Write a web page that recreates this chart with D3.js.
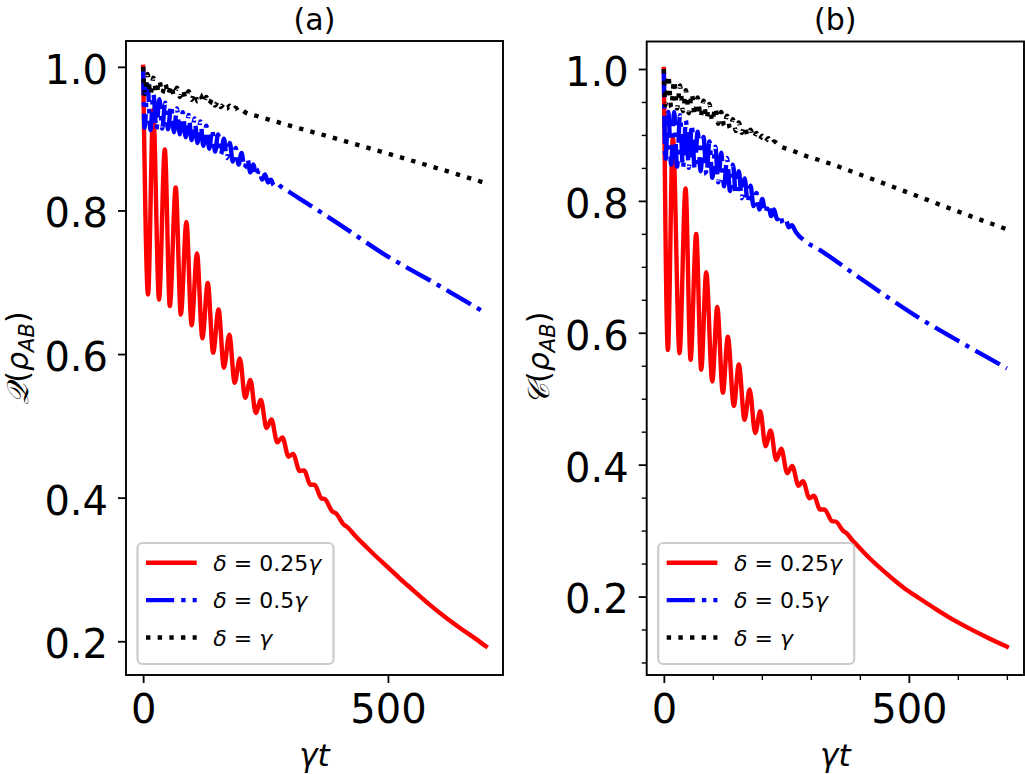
<!DOCTYPE html>
<html><head><meta charset="utf-8">
<script src="https://cdn.jsdelivr.net/npm/d3@7/dist/d3.min.js"></script>
<style>
body{margin:0;background:#fff;}
text{font-family:"DejaVu Sans",sans-serif;fill:#000;}
</style>
</head><body>
<svg id="chart" width="1025" height="774"></svg>
<script>
// ---------------- data ----------------
const legendLabels = [["δ"," = 0.25","γ"],["δ"," = 0.5","γ"],["δ"," = ","γ"]];
const panelTitles = ["(a)","(b)"];
const xMajorTicks = [0, 500];
const xMinorTicksB = [100, 200, 300, 400, 600, 700];
const yMajorTicks = [0.2, 0.4, 0.6, 0.8, 1.0];
const yMinorTicksB = [0.1,0.15,0.25,0.3,0.35,0.45,0.5,0.55,0.65,0.7,0.75,0.85,0.9,0.95];
const xDomain = [-35, 735];
const yDomainA = [0.153, 1.036];
const yDomainB = [0.081, 1.0417];

// panel (a): Q(rho_AB)
const redA = [[0,1.0],[10,0.683],[20.5,0.940],[32.5,0.676],[44.3,0.885],[54.5,0.667],[66.5,0.832],[77,0.655],[88.4,0.784],[99,0.640],[110,0.740],[121,0.622],[132,0.699],[143,0.602],[154,0.662],[165,0.581],[176,0.627],[187,0.560],[197.5,0.594],[208.5,0.539],[219,0.564],[230,0.518],[240.5,0.536],[252,0.497],[262,0.509],[274,0.477],[284.5,0.484],[297,0.457],[306,0.461],[320,0.437],[328.6,0.438],[342,0.418],[350,0.418],[364,0.399],[371,0.398],[386,0.381],[394,0.378],[409,0.363],[417,0.359],[433,0.347],[455,0.332],[476,0.318],[500,0.303],[525,0.287],[550,0.272],[585,0.251],[620,0.232],[650,0.217],[680,0.203],[700,0.193]];
const blueA = [[0,1.0],[3,0.915],[9,0.975],[15,0.912],[21,0.962],[27,0.913],[33,0.955],[39,0.914],[45,0.950],[51,0.913],[57,0.946],[63,0.909],[69,0.942],[75,0.906],[81,0.937],[87,0.902],[93,0.933],[99,0.898],[105,0.928],[111,0.894],[117,0.924],[123,0.890],[129,0.918],[135,0.886],[141,0.912],[147,0.882],[153,0.906],[159,0.878],[165,0.900],[171,0.873],[177,0.894],[183,0.868],[189,0.887],[195,0.864],[201,0.880],[207,0.859],[213,0.872],[219,0.853],[225,0.864],[231,0.848],[237,0.857],[243,0.843],[249,0.850],[255,0.839],[261,0.843],[267,0.835],[273,0.838],[280,0.834],[300,0.825],[330,0.812],[400,0.781],[490,0.740],[600,0.697],[700,0.657]];
const blackA = [[0,1.0],[3,0.962],[9,0.990],[15,0.962],[21,0.985],[27,0.963],[33,0.981],[39,0.963],[45,0.977],[51,0.962],[57,0.974],[63,0.960],[69,0.971],[75,0.958],[81,0.968],[87,0.956],[93,0.966],[99,0.954],[105,0.963],[111,0.952],[117,0.961],[123,0.950],[129,0.958],[135,0.948],[141,0.955],[147,0.946],[153,0.952],[159,0.944],[165,0.949],[171,0.942],[177,0.946],[183,0.940],[189,0.943],[195,0.938],[201,0.940],[210,0.936],[230,0.932],[260,0.926],[300,0.918],[400,0.899],[500,0.879],[600,0.859],[700,0.838]];

// panel (b): C(rho_AB)
const redB = [[0,1.0],[8.2,0.574],[18.4,0.897],[32,0.569],[44.3,0.819],[54.5,0.559],[66,0.750],[76.3,0.544],[86.5,0.692],[98.8,0.526],[109,0.639],[120.4,0.509],[130.6,0.594],[142.9,0.489],[153,0.552],[164.7,0.468],[175,0.514],[186.5,0.448],[196.7,0.481],[207.6,0.428],[217.8,0.452],[229.4,0.407],[239.6,0.424],[251.8,0.387],[262,0.398],[274.9,0.368],[283.7,0.375],[297.3,0.349],[306,0.353],[319,0.332],[328,0.332],[343.7,0.314],[349.8,0.314],[366.7,0.299],[373,0.296],[385,0.285],[394,0.278],[420,0.258],[454,0.235],[490,0.213],[522,0.197],[555,0.181],[590,0.165],[625,0.151],[660,0.138],[700,0.124]];
const blueB = [[0,1.0],[3,0.860],[9,0.935],[15,0.855],[21,0.935],[27,0.852],[33,0.930],[39,0.850],[45,0.922],[51,0.850],[57,0.915],[63,0.848],[69,0.905],[75,0.845],[81,0.897],[87,0.840],[93,0.890],[99,0.835],[105,0.882],[111,0.828],[117,0.873],[123,0.822],[129,0.865],[135,0.815],[141,0.855],[147,0.810],[153,0.845],[159,0.804],[165,0.834],[171,0.798],[177,0.823],[183,0.792],[189,0.812],[195,0.787],[201,0.803],[207,0.782],[213,0.795],[219,0.777],[225,0.787],[231,0.772],[237,0.779],[243,0.766],[249,0.771],[255,0.760],[261,0.763],[270,0.752],[290,0.738],[317,0.726],[400,0.683],[522,0.622],[600,0.588],[700,0.546]];
const blackB = [[0,1.0],[3,0.945],[9,0.990],[15,0.942],[21,0.982],[27,0.940],[33,0.975],[39,0.936],[45,0.968],[51,0.933],[57,0.962],[63,0.930],[69,0.957],[75,0.928],[81,0.952],[87,0.925],[93,0.947],[99,0.921],[105,0.941],[111,0.917],[117,0.935],[123,0.914],[129,0.929],[135,0.910],[141,0.924],[147,0.906],[153,0.919],[159,0.903],[165,0.913],[171,0.899],[177,0.908],[183,0.896],[189,0.903],[195,0.893],[201,0.899],[207,0.890],[213,0.895],[219,0.887],[225,0.890],[235,0.884],[260,0.877],[290,0.868],[317,0.862],[400,0.840],[522,0.806],[600,0.784],[700,0.757]];

// ---------------- drawing ----------------
const svg = d3.select("#chart");
const LW = 4.4;
const styles = [
  {color:"#ff0000", dash:null},
  {color:"#0000ff", dash:[6.4*LW,1.6*LW,1*LW,1.6*LW].join(",")},
  {color:"#000000", dash:[1*LW,1.65*LW].join(",")}
];

const panels = [
  {id:"a", left:126, right:503, top:41, bottom:675, yDom:yDomainA, series:[redA,blueA,blackA], minor:false, ylab:"𝒬", labX:28},
  {id:"b", left:646.7, right:1024, top:41.5, bottom:675, yDom:yDomainB, series:[redB,blueB,blackB], minor:true, ylab:"𝒞", labX:548.7}
];

panels.forEach((p,pi)=>{
  const x = d3.scaleLinear().domain(xDomain).range([p.left,p.right]);
  const y = d3.scaleLinear().domain(p.yDom).range([p.bottom,p.top]);
  const g = svg.append("g");

  g.append("clipPath").attr("id","clip"+p.id).append("rect")
    .attr("x",p.left).attr("y",p.top).attr("width",p.right-p.left).attr("height",p.bottom-p.top);

  const line = d3.line().x(d=>x(d[0])).y(d=>y(d[1])).curve(d3.curveMonotoneX);
  const lg = g.append("g").attr("clip-path","url(#clip"+p.id+")");
  p.series.forEach((s,i)=>{
    lg.append("path").attr("d",line(s)).attr("fill","none")
      .attr("stroke",styles[i].color).attr("stroke-width",LW)
      .attr("stroke-dasharray",styles[i].dash).attr("stroke-linejoin","round")
      .attr("stroke-linecap", i===0 ? "square" : "butt");
  });

  // axes
  const ax = g.append("g").attr("transform",`translate(0,${p.bottom})`)
    .call(d3.axisBottom(x).tickValues(xMajorTicks).tickSize(8).tickPadding(12).tickFormat(d3.format("d")));
  const ay = g.append("g").attr("transform",`translate(${p.left},0)`)
    .call(d3.axisLeft(y).tickValues(yMajorTicks).tickSize(8).tickPadding(10).tickFormat(d3.format(".1f")));
  [ax,ay].forEach(a=>{
    a.select(".domain").remove();
    a.selectAll(".tick line").attr("stroke","#000").attr("stroke-width",1.8);
    a.selectAll(".tick text").attr("font-size",40).attr("font-family","DejaVu Sans").attr("fill","#000");
  });
  ay.selectAll(".tick text").attr("dy","0.41em");
  if(p.minor){
    const mx = g.append("g").attr("transform",`translate(0,${p.bottom})`)
      .call(d3.axisBottom(x).tickValues(xMinorTicksB).tickSize(5).tickFormat(""));
    const my = g.append("g").attr("transform",`translate(${p.left},0)`)
      .call(d3.axisLeft(y).tickValues(yMinorTicksB).tickSize(5).tickFormat(""));
    [mx,my].forEach(a=>{a.select(".domain").remove(); a.selectAll(".tick line").attr("stroke","#000").attr("stroke-width",1.4);});
  }

  // spines
  g.append("rect").attr("x",p.left).attr("y",p.top).attr("width",p.right-p.left).attr("height",p.bottom-p.top)
    .attr("fill","none").attr("stroke","#000").attr("stroke-width",1.9);

  // title
  g.append("text").attr("x",(p.left+p.right)/2).attr("y",30).attr("text-anchor","middle")
    .attr("font-size",30).text(panelTitles[pi]);

  // x label
  g.append("text").attr("x",(p.left+p.right)/2).attr("y",766).attr("text-anchor","middle")
    .attr("font-size",31).attr("font-style","italic").text("γt");

  // y label
  const yl = g.append("text").attr("transform",`translate(${p.labX},${(p.top+p.bottom)/2}) rotate(-90)`)
    .attr("text-anchor","middle").attr("font-size",30);
  yl.append("tspan").attr("font-style","italic").text(p.ylab);
  yl.append("tspan").text("(");
  yl.append("tspan").attr("font-style","italic").text("ρ");
  yl.append("tspan").attr("font-style","italic").attr("font-size",21).attr("dy",6).text("AB");
  yl.append("tspan").attr("dy",-6).text(")");

  // legend
  const L = {x:p.left+11.5, y:543, w:196, h:121};
  const leg = g.append("g");
  leg.append("rect").attr("x",L.x).attr("y",L.y).attr("width",L.w).attr("height",L.h)
    .attr("rx",5).attr("ry",5).attr("fill","#fff").attr("fill-opacity",0.8)
    .attr("stroke","#cccccc").attr("stroke-width",2.2);
  const rowY = [562.7, 600.1, 637.5];
  legendLabels.forEach((lab,i)=>{
    leg.append("line").attr("x1",p.left+20).attr("x2",p.left+70.7).attr("y1",rowY[i]).attr("y2",rowY[i])
      .attr("stroke",styles[i].color).attr("stroke-width",LW).attr("stroke-dasharray",styles[i].dash);
    const t = leg.append("text").attr("x",p.left+87.3).attr("y",rowY[i]+8).attr("font-size",22);
    t.append("tspan").attr("font-style","italic").text(lab[0]);
    t.append("tspan").style("white-space","pre").text(lab[1]);
    t.append("tspan").attr("font-style","italic").text(lab[2]);
  });
});
</script>
</body></html>
